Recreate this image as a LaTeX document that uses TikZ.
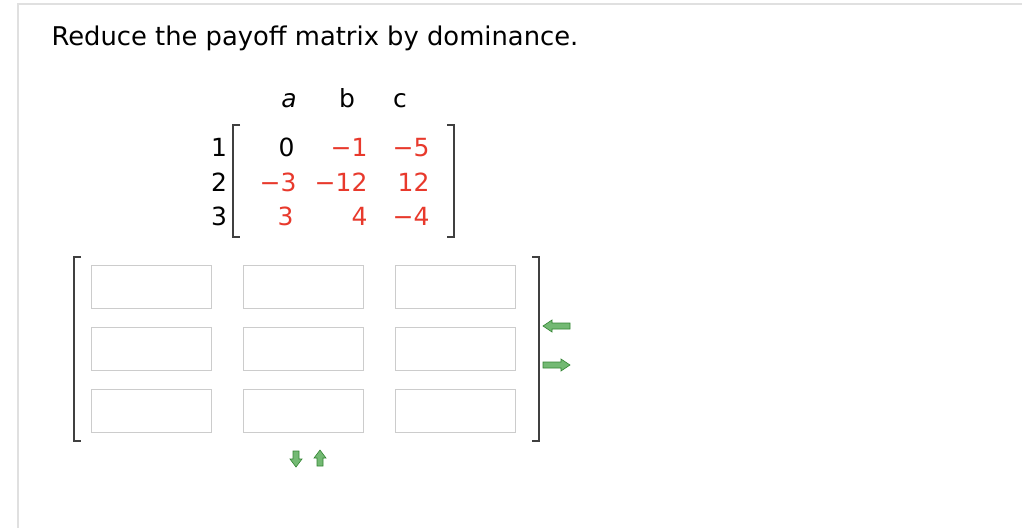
\documentclass[tikz,border=0pt]{standalone}
\usepackage{fontspec}
\setmainfont{DejaVu Sans}
\definecolor{entred}{HTML}{E8392C}
\begin{document}
\begin{tikzpicture}[x=1pt,y=-1pt,
  cell/.style={draw=black!20,line width=0.8pt,minimum width=120pt,minimum height=43pt,inner sep=0pt},
  ent/.style={font=\fontsize{25}{25}\selectfont,anchor=base east,text=entred},
  lab/.style={font=\fontsize{25}{25}\selectfont,anchor=base},
  grarrow/.style={draw=green!40!black!80,fill=green!50!black!55,line width=0.6pt},
  brk/.style={line width=1.3pt,black!75}]
\useasboundingbox (0,0) rectangle (1022,528);
\fill[white] (0,0) rectangle (1022,528);
\draw[black!12,line width=1.5pt] (18,528) -- (18,4) -- (1022,4);
\node[anchor=base west,font=\fontsize{25.8}{26}\selectfont] (title) at (48,45) {Reduce the payoff matrix by dominance.};
\node[lab] (ha) at (289,107) {\itshape a};
\node[lab] (hb) at (347,107) {b};
\node[lab] (hc) at (400,107) {c};
\node[lab] (r1) at (219,156) {1};
\node[lab] (r2) at (219,191) {2};
\node[lab] (r3) at (219,225) {3};
\draw[brk] (240,125) -- (233,125) -- (233,237) -- (240,237);
\draw[brk] (447,125) -- (454,125) -- (454,237) -- (447,237);
\node[ent,text=black] (m11) at (298,156) {0};
\node[ent] (m12) at (371,156) {−1};
\node[ent] (m13) at (433,156) {−5};
\node[ent] (m21) at (300,191) {−3};
\node[ent] (m22) at (371,191) {−12};
\node[ent] (m23) at (433,191) {12};
\node[ent] (m31) at (297,225) {3};
\node[ent] (m32) at (371,225) {4};
\node[ent] (m33) at (433,225) {−4};
\foreach \c/\x in {1/151,2/303,3/455}{
  \foreach \r/\y in {1/287,2/349,3/411}{
    \node[cell] (b\r\c) at (\x,\y) {};
  }
}
\draw[brk] (81,257) -- (74,257) -- (74,441) -- (81,441);
\draw[brk] (532,257) -- (539,257) -- (539,441) -- (532,441);
\draw[grarrow] (543,326) -- (552,320) -- (552,323) -- (570,323) -- (570,329) -- (552,329) -- (552,332) -- cycle;
\draw[grarrow] (570,365) -- (561,359) -- (561,362) -- (543,362) -- (543,368) -- (561,368) -- (561,371) -- cycle;
\draw[grarrow] (296,467) -- (290,459) -- (293,459) -- (293,451) -- (299,451) -- (299,459) -- (302,459) -- cycle;
\draw[grarrow] (320,450) -- (326,458) -- (323,458) -- (323,466) -- (317,466) -- (317,458) -- (314,458) -- cycle;
\end{tikzpicture}
\end{document}
